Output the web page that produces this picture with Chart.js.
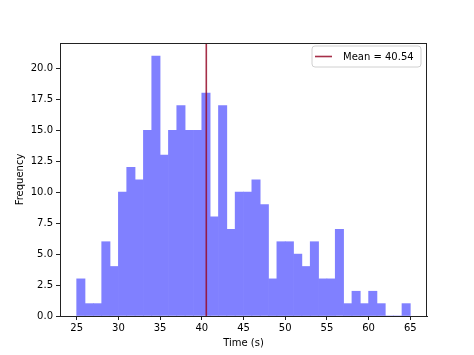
<!DOCTYPE html>
<html>
<head>
<meta charset="utf-8">
<script src="https://cdn.jsdelivr.net/npm/chart.js@4/dist/chart.umd.min.js"></script>
<style>
  html, body { margin: 0; padding: 0; background: #fff; }
  #wrap { width: 474px; height: 355px; }
</style>
</head>
<body>
<div id="wrap"><canvas id="c" width="474" height="355"></canvas></div>
<script>
// ---- data ----
const binStarts = [25,26,27,28,29,30,31,32,33,34,35,36,37,38,39,40,41,42,43,44,
                   45,46,47,48,49,50,51,52,53,54,55,56,57,58,59,60,61,62,63,64];
const counts    = [3,1,1,6,4,10,12,11,15,21,13,15,17,15,15,18,8,17,7,10,
                   10,11,9,3,6,6,5,4,6,3,3,7,1,2,1,2,1,0,0,1];
const meanValue = 40.54;
const xTicks = [25,30,35,40,45,50,55,60,65];
const yTicks = [0,2.5,5,7.5,10,12.5,15,17.5,20];
const legendLabel = 'Mean = 40.54';
const xTitle = 'Time (s)';
const yTitle = 'Frequency';

const xMin = 23, xMax = 67, yMax = 22.05;

Chart.defaults.font.family = 'DejaVu Sans';
Chart.defaults.font.size = 10;
Chart.defaults.color = '#000';

const histData = binStarts.map((s, i) => ({x: s + 0.5, y: counts[i]}));
const meanData = [{x: meanValue, y: 0}, {x: meanValue, y: yMax}];

const framePlugin = {
  id: 'frame',
  afterDraw(chart) {
    const {ctx, chartArea: a} = chart;
    ctx.save();
    ctx.strokeStyle = '#222';
    ctx.lineWidth = 1;
    ctx.strokeRect(Math.round(a.left) + 0.5, Math.round(a.top) + 0.5,
                   Math.round(a.right - a.left) - 1, Math.round(a.bottom - a.top));
    // legend box (top-right inside axes)
    const bx = a.right - 115, by = a.top + 3, bw = 109, bh = 21, r = 3;
    ctx.beginPath();
    ctx.moveTo(bx + r, by);
    ctx.arcTo(bx + bw, by, bx + bw, by + bh, r);
    ctx.arcTo(bx + bw, by + bh, bx, by + bh, r);
    ctx.arcTo(bx, by + bh, bx, by, r);
    ctx.arcTo(bx, by, bx + bw, by, r);
    ctx.closePath();
    ctx.fillStyle = 'rgba(255,255,255,0.8)';
    ctx.fill();
    ctx.strokeStyle = '#d0d0d0';
    ctx.stroke();
    const ds = chart.data.datasets[0];
    ctx.strokeStyle = ds.borderColor;
    ctx.lineWidth = ds.borderWidth;
    ctx.beginPath();
    ctx.moveTo(bx + 3, by + bh / 2);
    ctx.lineTo(bx + 20, by + bh / 2);
    ctx.stroke();
    ctx.fillStyle = '#000';
    ctx.font = '10px "DejaVu Sans"';
    ctx.textBaseline = 'middle';
    ctx.textAlign = 'left';
    ctx.fillText(ds.label, bx + 31, by + bh / 2 + 0.5);
    ctx.restore();
  }
};

new Chart(document.getElementById('c'), {
  type: 'bar',
  data: {
    datasets: [
      {
        type: 'line',
        label: legendLabel,
        data: meanData,
        borderColor: 'rgba(150,10,40,0.85)',
        borderWidth: 1.6,
        pointRadius: 0,
        order: 0
      },
      {
        type: 'bar',
        label: 'Histogram',
        data: histData,
        backgroundColor: '#8080ff',
        borderWidth: 0,
        barPercentage: 1,
        categoryPercentage: 1,
        grouped: false,
        order: 1
      }
    ]
  },
  options: {
    responsive: false,
    animation: false,
    events: [],
    layout: { padding: { top: 43, right: 47, bottom: 0, left: 0 } },
    plugins: { legend: { display: false }, tooltip: { enabled: false } },
    scales: {
      x: {
        type: 'linear',
        min: xMin, max: xMax,
        offset: false,
        afterFit(s) { s.height = 39; },
        afterBuildTicks(s) { s.ticks = xTicks.map(v => ({value: v})); },
        grid: { display: true, drawOnChartArea: false, drawTicks: true, tickLength: 4, color: '#222', offset: false },
        border: { display: true, color: '#222', width: 1 },
        ticks: { padding: 2, color: '#000', maxRotation: 0, autoSkip: false, callback: v => String(v) },
        title: { display: true, text: xTitle, color: '#000', font: { size: 10 }, padding: { top: 0, bottom: 6 } }
      },
      y: {
        type: 'linear',
        min: 0, max: yMax,
        afterFit(s) { s.width = 60; },
        afterBuildTicks(s) { s.ticks = yTicks.map(v => ({value: v})); },
        grid: { display: true, drawOnChartArea: false, drawTicks: true, tickLength: 4, color: '#222' },
        border: { display: true, color: '#222', width: 1 },
        ticks: { padding: 3, color: '#000', autoSkip: false, callback: v => Number(v).toFixed(1) },
        title: { display: true, text: yTitle, color: '#000', font: { size: 10 }, padding: { top: 14, bottom: 0 } }
      }
    }
  },
  plugins: [framePlugin]
});
</script>
</body>
</html>
